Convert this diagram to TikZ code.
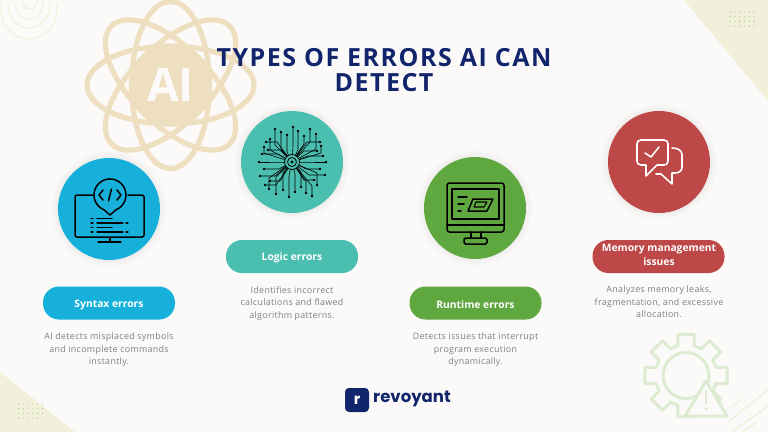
\documentclass[tikz,border=0pt]{standalone}
\usepackage{fontspec}
\setmainfont{Open Sans}
\newfontfamily\titlefont{Open Sans}[LetterSpace=6]
\newfontfamily\logofont{Poppins}
\newfontfamily\bodyfont{Open Sans}[LetterSpace=3.5]
\definecolor{bgc}{HTML}{FBFAF8}
\definecolor{creamc}{HTML}{EEDFC0}
\definecolor{cornerc}{HTML}{F1F0DA}
\definecolor{navyc}{HTML}{12246B}
\definecolor{bluec}{HTML}{17B0DB}
\definecolor{tealc}{HTML}{4ABFB0}
\definecolor{greenc}{HTML}{5FA73F}
\definecolor{redc}{HTML}{BE4747}
\definecolor{bodyc}{HTML}{808080}
\definecolor{gearc}{HTML}{DDEBD2}
\definecolor{dotc}{HTML}{8DC16A}
\tikzset{
  x=1pt,y=-1pt,
  disc/.style={circle,minimum size=102pt,inner sep=0pt,fill=#1},
  pill/.style={rounded corners=16pt,minimum width=132pt,minimum height=33pt,inner sep=0pt,fill=#1},
  pilltext/.style={text=white,align=center,inner sep=0pt,font=\fontsize{10.3}{14.5}\selectfont\bfseries},
  bodytext/.style={text=bodyc,align=center,inner sep=0pt,anchor=north,font=\bodyfont\fontsize{8.9}{12.5}\selectfont},
  iconline/.style={draw=black,line width=1.5pt,line cap=round,line join=round},
  whiteline/.style={draw=white,line width=1.6pt,line join=round,line cap=round},
  circuit/.style={draw=black,line width=.6pt},
  faint/.style={draw=cornerc,line width=1.3pt,line cap=round}
}
\newcommand{\softshadow}[1]{%
  \foreach \rr in {58,56,54,52.5}{\fill[black,opacity=.012] (#1) circle[radius=\rr];}}
\begin{document}
\begin{tikzpicture}
\useasboundingbox (0,0) rectangle (768,432);
\fill[bgc] (0,0) rectangle (768,432);
% corners
\fill[cornerc] (684,0) -- (768,0) -- (768,101) -- cycle;
\fill[cornerc] (0,372) -- (75,432) -- (0,432) -- cycle;
\foreach \i in {0,...,5}\foreach \j in {0,...,3}{
  \fill[dotc,opacity=.65] ({730+\i*4.8},{12+\j*4.7}) circle[radius=.75];
  \fill[dotc] ({18.5+\i*4.8},{404+\j*4.7}) circle[radius=.5];
}
% fingerprint
\foreach \cx/\cy/\rx/\ry/\sa/\ea in {29/9/28/30/-8/195, 29/5/21/23/-5/175, 29/3/14/16/-20/170, 30/0/8/9/0/180}{
  \draw[faint,line width=1pt] ({\cx+\rx*cos(\sa)},{\cy+\ry*sin(\sa)}) arc[start angle=\sa,end angle=\ea,x radius=\rx,y radius=\ry];
}
% diagonal strokes
\coordinate (s1a) at (728,422); \coordinate (s1b) at (768,390);
\coordinate (s2a) at (732,407); \coordinate (s2b) at (742,399);
\coordinate (s3a) at (732,432); \coordinate (s3b) at (768,406);
\coordinate (s4a) at (743,431); \coordinate (s4b) at (757,422);
\draw[faint] (s1a) -- (s1b); \draw[faint] (s2a) -- (s2b);
\draw[faint] (s3a) -- (s3b); \draw[faint] (s4a) -- (s4b);
% atom
\foreach \a in {0,45,90,135}{
  \draw[creamc,line width=5.2pt,rotate around={\a:(170.5,85)}] (170.5,85) ellipse[x radius=83.5,y radius=39];
}
\node[circle,fill=creamc,minimum size=82pt,inner sep=0pt,text=bgc,font=\fontsize{46}{46}\selectfont\bfseries] (atom) at (170.5,85) {AI};
% gear
\begin{scope}[shift={(686,375.5)}]
\draw[gearc,line width=3pt,line join=round] (-11:42)
  \foreach \i in {0,...,7}{ -- ({\i*45-11}:42) -- ({\i*45+11}:42) -- ({\i*45+15}:31) -- ({\i*45+30}:31)} -- cycle;
\draw[gearc,line width=3pt] (0,0) circle[radius=23];
\end{scope}
\draw[gearc,line width=3pt,line join=round,fill=bgc] (706,381) -- (727,416) -- (685,416) -- cycle;
\draw[gearc,line width=2.8pt,line cap=round] (706,391) -- (706,403);
\fill[gearc] (706,409) circle[radius=1.8];
% title
\node[text=navyc,align=center,inner sep=0pt,font=\titlefont\fontsize{25}{25.5}\selectfont\bfseries] (title) at (384,70) {TYPES OF ERRORS AI CAN\\DETECT};
% discs
\softshadow{109,209}\softshadow{292,162}\softshadow{475,208}\softshadow{659,162}
\node[disc=bluec] (d1) at (109,209) {};
\node[disc=tealc] (d2) at (292,162) {};
\node[disc=greenc] (d3) at (475,208) {};
\node[disc=redc] (d4) at (659,162) {};
% syntax icon
\draw[iconline] (93,195) -- (77,195) arc[start angle=-90,end angle=-180,radius=2] -- (75,235) arc[start angle=180,end angle=90,radius=2] -- (142,237) arc[start angle=90,end angle=0,radius=2] -- (144,197) arc[start angle=0,end angle=-90,radius=2] -- (128,195);
\draw[iconline] (104,209.8) arc[start angle=112,end angle=428,radius=16];
\draw[iconline] (104,209.8) -- (110,215) -- (116,209.8);
\draw[iconline] (103,190) -- (99,195) -- (103,200);
\draw[iconline] (117,190) -- (121,195) -- (117,200);
\draw[iconline] (111.5,189) -- (108.5,201);
\draw[iconline] (110,237) -- (110,242); \draw[iconline] (98,242) -- (121,242);
\foreach \yy/\xa/\xb/\dt in {218.7/97/112/0,223/97/123/1,227.7/97/112/0,232/97/123/1}{
  \draw[iconline,line width=1.2pt] (91,\yy) -- (93,\yy);
  \draw[iconline,line width=1.2pt] (\xa,\yy) -- (\xb,\yy);
  \ifnum\dt=1 \draw[iconline,line width=1.2pt] (126,\yy) -- (128,\yy);\fi
}
% circuit icon
\begin{scope}[shift={(292,162)}]
\foreach \ex/\ey/\my in {-17/-33/-17,-11/-30/-13,-5/-27/-10,1/-35/-16,6/-31/-12,12/-26/-18,18/-33/-20,24/-28/-13,
  -22/-23/-12,-16/32/15,-9/28/11,-3/35/14,3/30/12,9/25/10,14/31/19,20/34/24,-23/27/16,25/23/11,-28/-15/-9,29/-16/-9}{
  \draw[circuit] (0,0) -- (\ex,\my) -- (\ex,\ey);
  \fill (\ex,\ey) circle[radius=1.35];
}
\foreach \ex/\ey/\mx in {-33/0/-12,34/0/12,-30/-8/-14,31/-6/16,-28/7/-13,28/7/14,-24/-12/-11,25/-11/12,-32/14/-17,33/13/17,-22/19/-12,22/18/12,-26/-20/-15,28/-20/15,-27/23/-16}{
  \draw[circuit] (0,0) -- (\mx,\ey) -- (\ex,\ey);
  \fill (\ex,\ey) circle[radius=1.35];
}
\draw[black,line width=.8pt,fill=tealc] (0,0) circle[radius=7.5];
\draw[black,line width=.8pt] (0,0) circle[radius=4.5];
\fill (0,0) circle[radius=1.7];
\end{scope}
% runtime icon
\draw[iconline,rounded corners=2.5pt] (447,183) rectangle (504,232);
\draw[iconline] (452,189) rectangle (499,219);
\draw[iconline] (447,225) -- (504,225);
\draw[iconline] (471,232) -- (471,238); \draw[iconline] (481,232) -- (481,238);
\draw[iconline,rounded corners=1.5pt] (464,238) rectangle (487,244);
\draw[iconline] (458,197) -- (467,197); \draw[iconline] (458,204) -- (464,204); \draw[iconline] (458,211) -- (461,211);
\draw[iconline] (473,199) -- (493,199) -- (487,211) -- (468,211) -- cycle;
\draw[iconline,line width=1.1pt] (476,202) -- (487,202) -- (484,207) -- (474,207) -- cycle;
% memory icon
\draw[whiteline] (641,140) -- (664,140) .. controls (667,140) and (668,142) .. (668,144) -- (668,161) .. controls (668,164) and (666,165) .. (664,165) -- (657,165) -- (646,176) -- (646,165) -- (641,165) .. controls (638,165) and (637,163) .. (637,161) -- (637,144) .. controls (637,142) and (638,140) .. (641,140) -- cycle;
\draw[whiteline] (645,153) -- (651,157) -- (659,147);
\draw[whiteline] (672,148) .. controls (679,148) and (682,151) .. (682,155) -- (682,167) .. controls (682,171) and (679,173) .. (675,173) -- (672,173) -- (672,184) -- (661,174) -- (656,174);
% pills
\node[pill=bluec] (p1) at (109,303) {};
\node[pill=tealc] (p2) at (292,256.5) {};
\node[pill=greenc] (p3) at (475.5,303) {};
\node[pill=redc] (p4) at (658.5,256.5) {};
\node[pilltext] (l1) at (109,304.5) {Syntax errors};
\node[pilltext] (l2) at (292,258) {Logic errors};
\node[pilltext] (l3) at (475.5,304.5) {Runtime errors};
\node[pilltext] (l4) at (659,255) {Memory management\\issues};
% body text
\node[bodytext] (t1) at (109,333) {AI detects misplaced symbols\\and incomplete commands\\instantly.};
\node[bodytext] (t2) at (292,286) {Identifies incorrect\\calculations and flawed\\algorithm patterns.};
\node[bodytext] (t3) at (475.5,333) {Detects issues that interrupt\\program execution\\dynamically.};
\node[bodytext] (t4) at (659,286) {Analyzes memory leaks,\\fragmentation, and excessive\\allocation.};
% logo
\node[fill=navyc,rounded corners=4pt,minimum size=24pt,inner sep=0pt,text=white,font=\logofont\fontsize{15}{15}\selectfont\bfseries] (logo) at (357,400) {r};
\node[anchor=west,inner sep=0pt,text=navyc,font=\logofont\fontsize{16.5}{17}\selectfont\bfseries] (brand) at (373,398.5) {revoyant};
\end{tikzpicture}
\end{document}
